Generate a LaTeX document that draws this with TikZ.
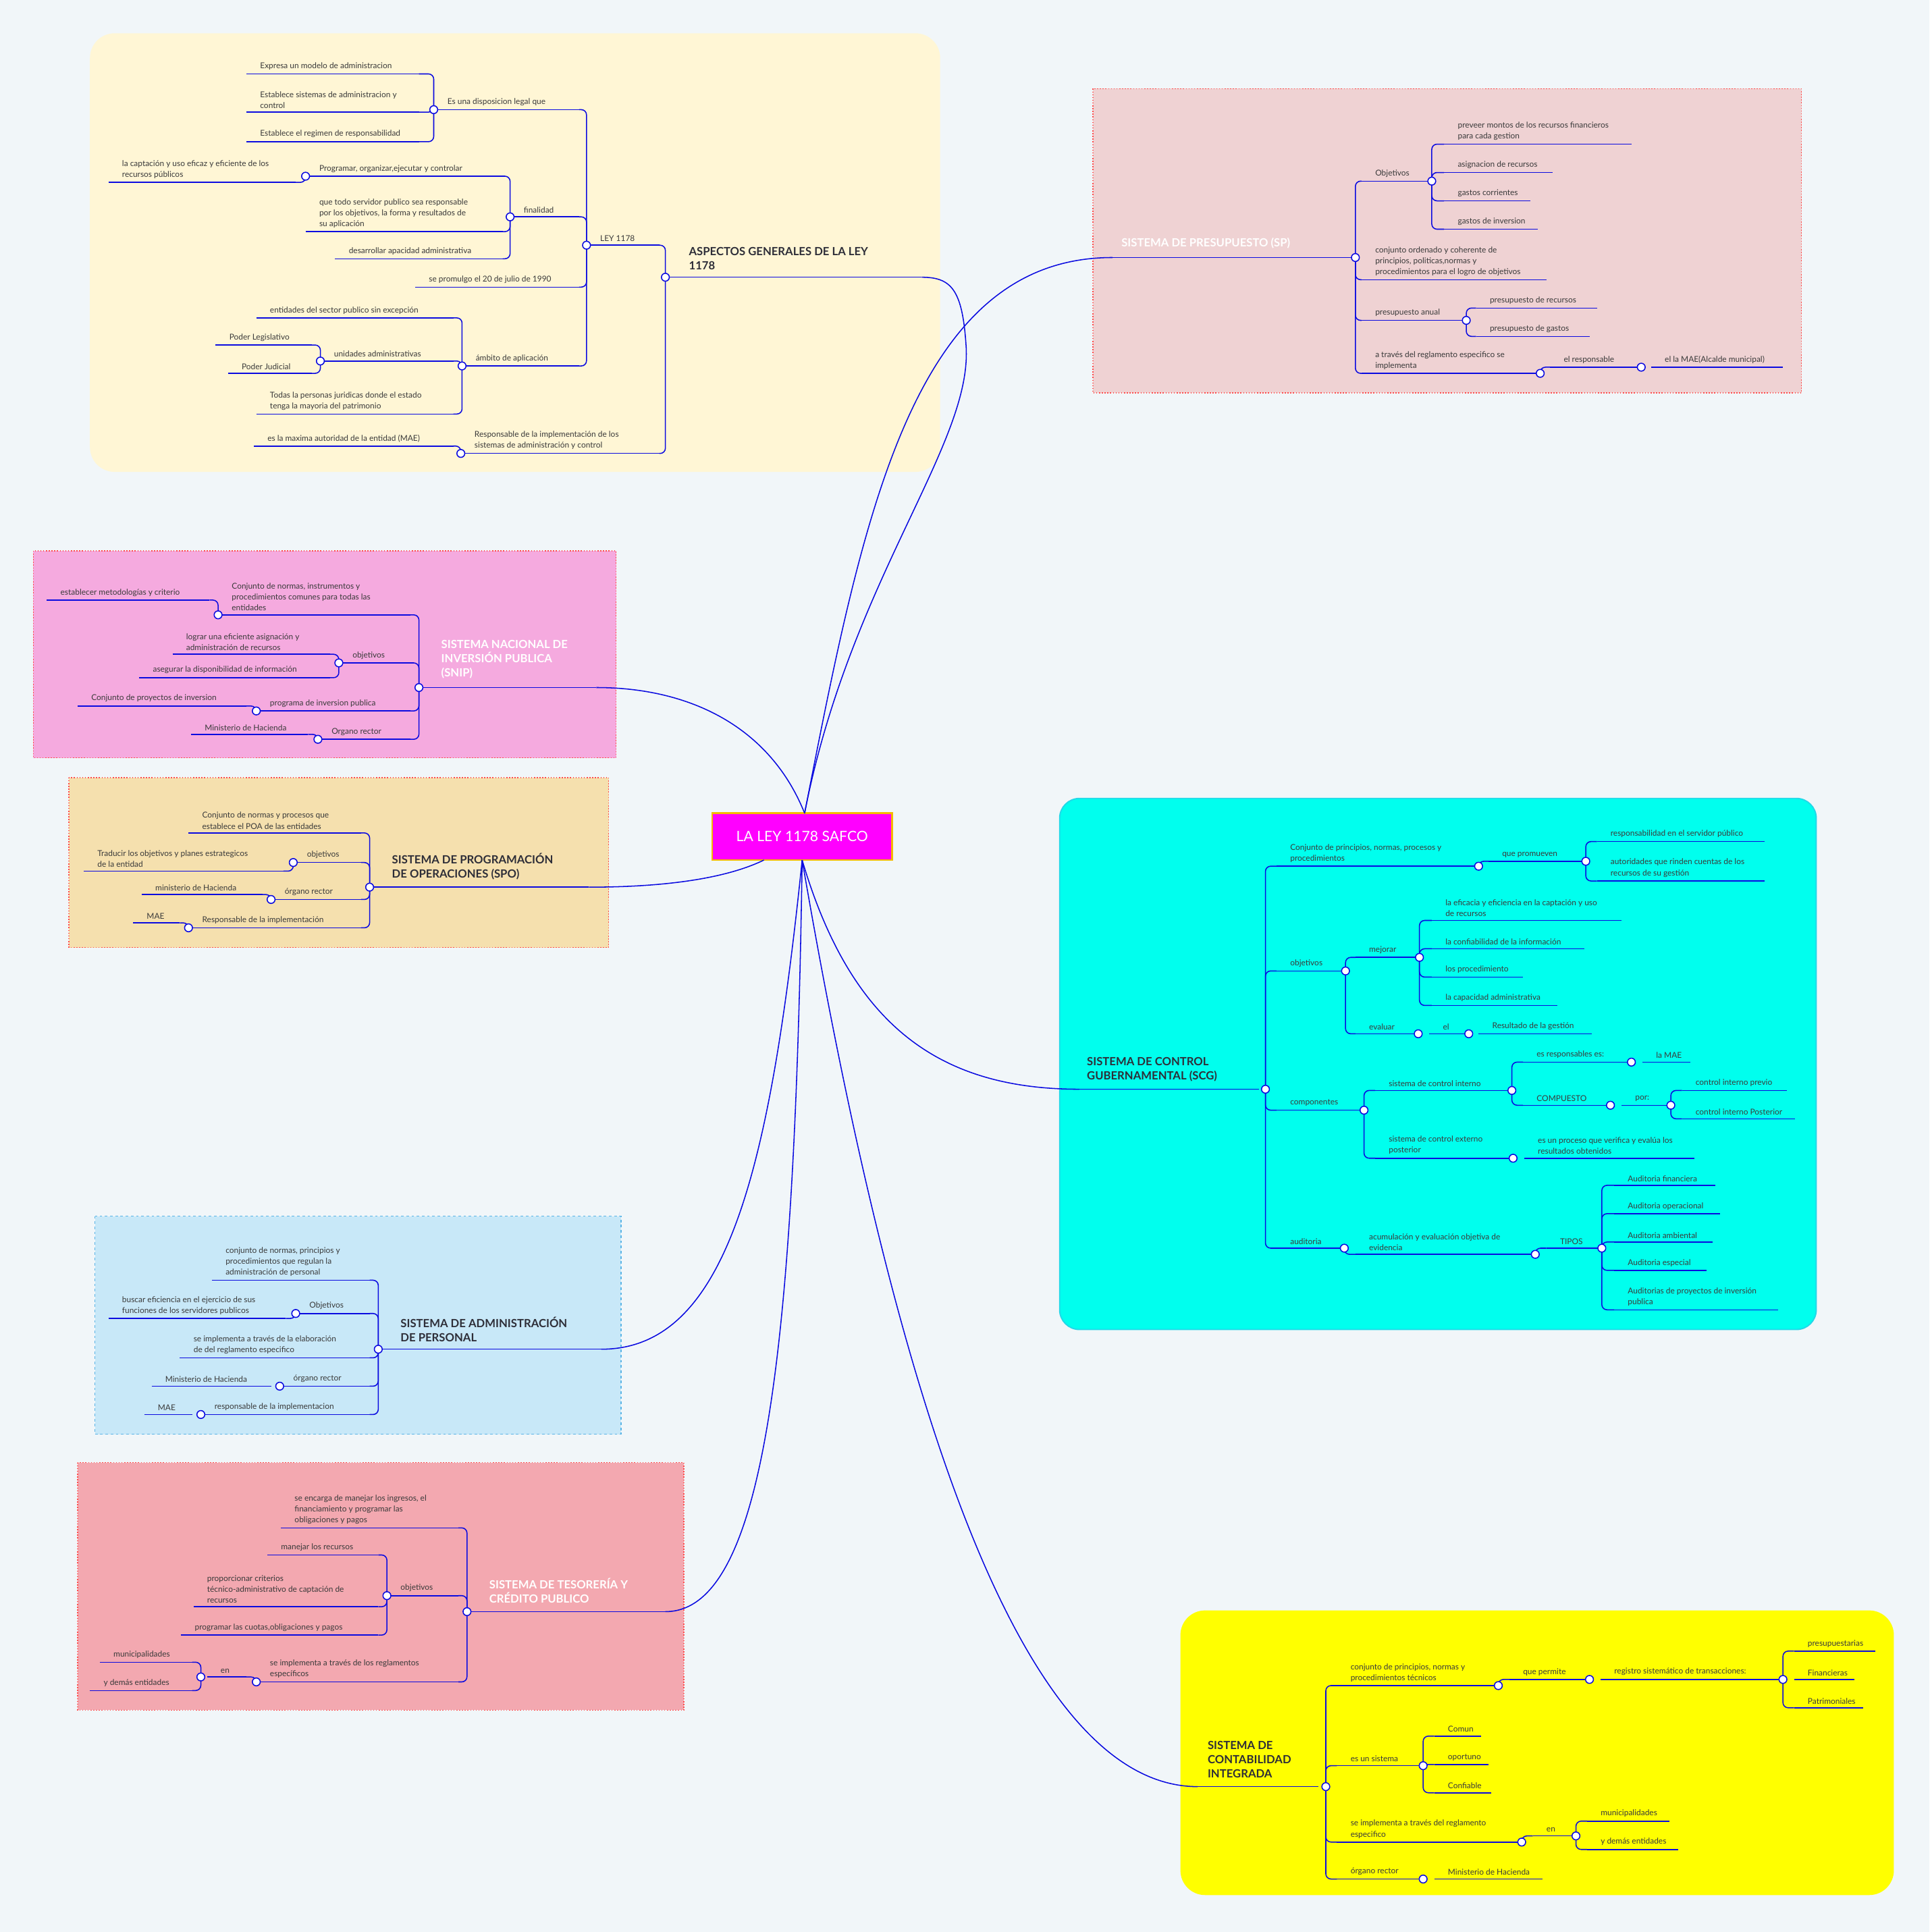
\documentclass[tikz,border=0pt]{standalone}
\usepackage{fontspec}
\setmainfont{Lato}
\usetikzlibrary{calc}
\pgfdeclarelayer{fg}
\pgfsetlayers{main,fg}
\definecolor{ln}{HTML}{0A0AE0}
\definecolor{tx}{HTML}{3A3A3A}
\definecolor{ttl}{HTML}{2E2E38}
\definecolor{rootf}{HTML}{FF00FF}
\definecolor{rootd}{HTML}{F5B800}
\tikzset{
 ln/.style={draw=ln,line width=1.2pt},
 lbl/.style={anchor=south west,inner sep=0pt,align=left,text=tx,font=\fontsize{9.3}{12.6}\selectfont},
 ttlS/.style={anchor=south west,inner sep=0pt,align=left,font=\bfseries\fontsize{13}{16.5}\selectfont},
 jc/.style={circle,draw=ln,fill=white,line width=1.2pt,inner sep=0pt,minimum size=3.2mm},
 root/.style={draw=rootd,line width=2.2pt,fill=rootf,text=white,minimum width=73mm,minimum height=19mm,font=\fontsize{16.5}{20}\selectfont},
 dotb/.style={draw=red!70!white,line width=1.2pt,dotted},
}
\newcommand\ml[5]{\draw[ln] (#2,#4) coordinate (#1a) -- (#3,#4) coordinate (#1b);
 \node[lbl] (#1t) at (#2+11,#4-3) {#5};}
\newcommand\jn[3]{\coordinate (#1) at (#2,#3);
 \begin{pgfonlayer}{fg}\node[jc] (#1c) at (#1) {};\end{pgfonlayer}}
\newcommand\cn[2]{\draw[ln,rounded corners=6] (#1) -| (#2);}
\begin{document}
\begin{tikzpicture}[x=0.5mm,y=-0.5mm]
\fill[fill={rgb,255:red,241;green,246;blue,249}] (0,0) rectangle (1566,1568);
\useasboundingbox (0,0) rectangle (1566,1568);
% panels
\fill[fill={rgb,255:red,255;green,246;blue,213},rounded corners=10mm] (73,27) rectangle (763,383);
\fill[fill={rgb,255:red,239;green,210;blue,211}] (887,72) rectangle (1462,319);
\draw[dotb] (887,72) rectangle (1462,319);
\fill[fill={rgb,255:red,245;green,170;blue,223}] (27,447) rectangle (500,615);
\draw[dotb] (27,447) rectangle (500,615);
\fill[fill={rgb,255:red,245;green,224;blue,174}] (56,631) rectangle (494,769);
\draw[dotb] (56,631) rectangle (494,769);
\draw[fill={rgb,255:red,0;green,255;blue,238},draw={rgb,255:red,34;green,216;blue,232},line width=1.5pt,rounded corners=8mm] (860,648) rectangle (1474,1079);
\draw[fill={rgb,255:red,200;green,232;blue,248},draw={rgb,255:red,90;green,180;blue,230},line width=0.9pt,dashed] (77,987) rectangle (504,1164);
\fill[fill={rgb,255:red,243;green,168;blue,176}] (63,1187) rectangle (555,1388);
\draw[dotb] (63,1187) rectangle (555,1388);
\fill[fill={rgb,255:red,255;green,255;blue,0},rounded corners=10mm] (958,1307) rectangle (1537,1538);

% root
\node[root] (root) at (651,679) {LA LEY 1178 SAFCO};

% ===== ASPECTOS
\draw[ln] (540,225) coordinate (A0a) -- (748,225) coordinate (A0b);
\node[ttlS,text=ttl] (A0t) at (559,219) {ASPECTOS GENERALES DE LA LEY\\1178};
\jn{JA0}{540}{225}
\ml{A1}{476}{535}{199}{LEY 1178} \jn{JA1}{476}{199} \cn{A1b}{JA0}
\ml{A11}{352}{470}{89}{Es una disposicion legal que} \jn{JA11}{352}{89} \cn{A11b}{JA1}
\ml{A111}{200}{340}{60}{Expresa un modelo de administracion} \cn{A111b}{JA11}
\ml{A112}{200}{340}{91}{Establece sistemas de administracion y\\control} \cn{A112b}{JA11}
\ml{A113}{200}{340}{115}{Establece el regimen de responsabilidad} \cn{A113b}{JA11}
\ml{A12}{414}{470}{176}{finalidad} \jn{JA12}{414}{176} \cn{A12b}{JA1}
\ml{A121}{248}{408}{143}{Programar, organizar,ejecutar y controlar} \jn{JA121}{248}{143} \cn{A121b}{JA12}
\ml{A1211}{88}{240}{148}{la captación y uso eficaz y eficiente de los\\recursos públicos} \cn{A1211b}{JA121}
\ml{A122}{248}{408}{188}{que todo servidor publico sea responsable\\por los objetivos, la forma y resultados de\\su aplicación} \cn{A122b}{JA12}
\ml{A123}{272}{408}{210}{desarrollar apacidad administrativa} \cn{A123b}{JA12}
\ml{A13}{337}{470}{233}{se promulgo el 20 de julio de 1990} \cn{A13b}{JA1}
\ml{A14}{375}{470}{297}{ámbito de aplicación} \jn{JA14}{375}{297} \cn{A14b}{JA1}
\ml{A141}{208}{368}{258}{entidades del sector publico sin excepción} \cn{A141b}{JA14}
\ml{A142}{260}{368}{293}{unidades administrativas} \jn{JA142}{260}{293} \cn{A142b}{JA14}
\ml{A1421}{175}{253}{280}{Poder Legislativo} \cn{A1421b}{JA142}
\ml{A1422}{185}{253}{303}{Poder Judicial} \cn{A1422b}{JA142}
\ml{A143}{208}{368}{336}{Todas la personas juridicas donde el estado\\tenga la mayoria del patrimonio} \cn{A143b}{JA14}
\ml{A2}{374}{535}{368}{Responsable de la implementación de los\\sistemas de administración y control} \jn{JA2}{374}{368} \cn{A2b}{JA0}
\ml{A21}{206}{368}{362}{es la maxima autoridad de la entidad (MAE)} \cn{A21b}{JA2}

% ===== SP
\draw[ln] (903,209) coordinate (P0a) -- (1085,209) coordinate (P0b);
\node[ttlS,text=white] (P0t) at (910,202) {SISTEMA DE PRESUPUESTO (SP)};
\draw[ln] (P0b) -- (1100,209);
\jn{JP0}{1100}{209}
\ml{P1}{1105}{1160}{147}{Objetivos} \jn{JP1}{1162}{147} \cn{P1a}{JP0}
\ml{P11}{1172}{1324}{117}{preveer montos de los recursos financieros\\para cada gestion} \cn{P11a}{JP1}
\ml{P12}{1172}{1260}{140}{asignacion de recursos} \cn{P12a}{JP1}
\ml{P13}{1172}{1242}{163}{gastos corrientes} \cn{P13a}{JP1}
\ml{P14}{1172}{1248}{186}{gastos de inversion} \cn{P14a}{JP1}
\ml{P2}{1105}{1255}{227}{conjunto ordenado y coherente  de\\principios, politicas,normas y\\procedimientos  para el logro de objetivos} \cn{P2a}{JP0}
\ml{P3}{1105}{1188}{260}{presupuesto anual} \jn{JP3}{1190}{260} \cn{P3a}{JP0}
\ml{P31}{1198}{1296}{250}{presupuesto de recursos} \cn{P31a}{JP3}
\ml{P32}{1198}{1290}{273}{presupuesto de gastos} \cn{P32a}{JP3}
\ml{P4}{1105}{1248}{303}{a través del reglamento especifico se\\implementa} \jn{JP4}{1250}{303} \cn{P4a}{JP0}
\ml{P41}{1258}{1330}{298}{el responsable} \jn{JP41}{1332}{298} \cn{P41a}{JP4}
\ml{P411}{1340}{1447}{298}{el la MAE(Alcalde municipal)}

% ===== SNIP
\draw[ln] (340,558) coordinate (N0a) -- (484,558) coordinate (N0b);
\node[ttlS,text=white] (N0t) at (358,551) {SISTEMA NACIONAL DE\\INVERSIÓN PUBLICA\\(SNIP)};
\jn{JN0}{340}{558}
\ml{N1}{177}{333}{499}{Conjunto de normas, instrumentos y\\procedimientos comunes para todas las\\entidades} \jn{JN1}{177}{499} \cn{N1b}{JN0}
\ml{N11}{38}{170}{487}{establecer metodologías y criterio} \cn{N11b}{JN1}
\ml{N2}{275}{333}{538}{objetivos} \jn{JN2}{275}{538} \cn{N2b}{JN0}
\ml{N21}{140}{268}{531}{lograr una eficiente asignación y\\administración de recursos} \cn{N21b}{JN2}
\ml{N22}{113}{268}{550}{asegurar la disponibilidad de información} \cn{N22b}{JN2}
\ml{N3}{208}{333}{577}{programa de inversion publica} \jn{JN3}{208}{577} \cn{N3b}{JN0}
\ml{N31}{63}{200}{573}{Conjunto de proyectos de inversion} \cn{N31b}{JN3}
\ml{N4}{258}{333}{600}{Organo rector} \jn{JN4}{258}{600} \cn{N4b}{JN0}
\ml{N41}{155}{250}{596}{Ministerio de Hacienda} \cn{N41b}{JN4}

% ===== SPO
\draw[ln] (300,720) coordinate (O0a) -- (478,720) coordinate (O0b);
\node[ttlS,text=ttl] (O0t) at (318,714) {SISTEMA DE PROGRAMACIÓN\\DE OPERACIONES (SPO)};
\jn{JO0}{300}{720}
\ml{O1}{153}{293}{676}{Conjunto  de normas y procesos que\\establece el POA  de las entidades} \cn{O1b}{JO0}
\ml{O2}{238}{293}{700}{objetivos} \jn{JO2}{238}{700} \cn{O2b}{JO0}
\ml{O21}{68}{230}{707}{Traducir los objetivos y planes estrategicos\\de la entidad} \cn{O21b}{JO2}
\ml{O3}{220}{293}{730}{órgano rector} \jn{JO3}{220}{730} \cn{O3b}{JO0}
\ml{O31}{115}{213}{726}{ministerio de Hacienda} \cn{O31b}{JO3}
\ml{O4}{153}{293}{753}{Responsable de la implementación} \jn{JO4}{153}{753} \cn{O4b}{JO0}
\ml{O41}{108}{146}{749}{MAE} \cn{O41b}{JO4}

% ===== SCG
\draw[ln] (876,884) coordinate (G0a) -- (1022,884) coordinate (G0b);
\node[ttlS,text=ttl] (G0t) at (882,878) {SISTEMA DE CONTROL\\GUBERNAMENTAL (SCG)};
\jn{JG0}{1027}{884}
\ml{G1}{1036}{1198}{703}{Conjunto de principios, normas, procesos y\\procedimientos} \jn{JG1}{1200}{703} \cn{G1a}{JG0}
\ml{G11}{1208}{1284}{699}{que promueven} \jn{JG11}{1287}{699} \cn{G11a}{JG1}
\ml{G111}{1296}{1432}{683}{responsabilidad en el servidor público} \cn{G111a}{JG11}
\ml{G112}{1296}{1432}{715}{autoridades que rinden cuentas de los\\recursos de su gestión} \cn{G112a}{JG11}
\ml{G2}{1036}{1090}{788}{objetivos} \jn{JG2}{1092}{788} \cn{G2a}{JG0}
\ml{G21}{1100}{1150}{777}{mejorar} \jn{JG21}{1152}{777} \cn{G21a}{JG2}
\ml{G211}{1162}{1316}{747}{la eficacia y eficiencia en la captación y uso\\de recursos} \cn{G211a}{JG21}
\ml{G212}{1162}{1286}{770}{la confiabilidad de la información} \cn{G212a}{JG21}
\ml{G213}{1162}{1236}{793}{los procedimiento} \cn{G213a}{JG21}
\ml{G214}{1162}{1264}{816}{la capacidad administrativa} \cn{G214a}{JG21}
\ml{G22}{1100}{1149}{839}{evaluar} \jn{JG22}{1151}{839} \cn{G22a}{JG2}
\ml{G221}{1160}{1190}{839}{el} \jn{JG221}{1192}{839}
\ml{G2211}{1200}{1292}{839}{Resultado de la gestión}
\ml{G3}{1036}{1105}{901}{componentes} \jn{JG3}{1107}{901} \cn{G3a}{JG0}
\ml{G31}{1116}{1225}{885}{sistema de control interno} \jn{JG31}{1227}{885} \cn{G31a}{JG3}
\ml{G311}{1236}{1322}{862}{es responsables es:} \jn{JG311}{1324}{862} \cn{G311a}{JG31}
\ml{G3111}{1333}{1372}{862}{la MAE}
\ml{G312}{1236}{1305}{897}{COMPUESTO} \jn{JG312}{1307}{897} \cn{G312a}{JG31}
\ml{G3121}{1316}{1354}{897}{por:} \jn{JG3121}{1356}{897}
\ml{G31211}{1365}{1450}{885}{control interno previo} \cn{G31211a}{JG3121}
\ml{G31212}{1365}{1457}{908}{control interno Posterior} \cn{G31212a}{JG3121}
\ml{G32}{1116}{1226}{940}{sistema de control externo\\posterior} \jn{JG32}{1228}{940} \cn{G32a}{JG3}
\ml{G321}{1237}{1375}{940}{es un proceso que verifica y evalúa los\\resultados obtenidos}
\ml{G4}{1036}{1089}{1013}{auditoria} \jn{JG4}{1091}{1013} \cn{G4a}{JG0}
\ml{G41}{1100}{1244}{1018}{acumulación y evaluación objetiva de\\evidencia} \jn{JG41}{1246}{1018} \cn{G41a}{JG4}
\ml{G411}{1255}{1298}{1013}{TIPOS} \jn{JG411}{1300}{1013} \cn{G411a}{JG41}
\ml{G4111}{1310}{1392}{962}{Auditoria financiera} \cn{G4111a}{JG411}
\ml{G4112}{1310}{1396}{985}{Auditoria operacional} \cn{G4112a}{JG411}
\ml{G4113}{1310}{1390}{1008}{Auditoria ambiental} \cn{G4113a}{JG411}
\ml{G4114}{1310}{1385}{1031}{Auditoria especial} \cn{G4114a}{JG411}
\ml{G4115}{1310}{1443}{1063}{Auditorias de proyectos de inversión\\publica} \cn{G4115a}{JG411}

% ===== SAP
\draw[ln] (307,1095) coordinate (S0a) -- (488,1095) coordinate (S0b);
\node[ttlS,text=ttl] (S0t) at (325,1089) {SISTEMA DE ADMINISTRACIÓN\\DE PERSONAL};
\jn{JS0}{307}{1095}
\ml{S1}{172}{300}{1039}{conjunto de normas, principios y\\procedimientos que regulan la\\administración de personal} \cn{S1b}{JS0}
\ml{S2}{240}{300}{1066}{Objetivos} \jn{JS2}{240}{1066} \cn{S2b}{JS0}
\ml{S21}{88}{232}{1070}{buscar eficiencia en el ejercicio de sus\\funciones de los servidores publicos} \cn{S21b}{JS2}
\ml{S3}{146}{300}{1102}{se implementa a través de la elaboración\\de del reglamento especifico} \cn{S3b}{JS0}
\ml{S4}{227}{300}{1125}{órgano rector} \jn{JS4}{227}{1125} \cn{S4b}{JS0}
\ml{S41}{123}{220}{1125}{Ministerio de Hacienda}
\ml{S5}{163}{300}{1148}{responsable de la implementacion} \jn{JS5}{163}{1148} \cn{S5b}{JS0}
\ml{S51}{117}{156}{1148}{MAE}

% ===== STC
\draw[ln] (379,1308) coordinate (T0a) -- (540,1308) coordinate (T0b);
\node[ttlS,text=white] (T0t) at (397,1301) {SISTEMA DE TESORERÍA Y\\CRÉDITO PUBLICO};
\jn{JT0}{379}{1308}
\ml{T1}{228}{372}{1240}{se encarga de manejar los ingresos, el\\financiamiento y programar las\\obligaciones y pagos} \cn{T1b}{JT0}
\ml{T2}{314}{372}{1295}{objetivos} \jn{JT2}{314}{1295} \cn{T2b}{JT0}
\ml{T21}{217}{307}{1262}{manejar los recursos} \cn{T21b}{JT2}
\ml{T22}{157}{307}{1304}{proporcionar criterios\\técnico-administrativo de captación de\\recursos} \cn{T22b}{JT2}
\ml{T23}{147}{307}{1327}{programar las cuotas,obligaciones y pagos} \cn{T23b}{JT2}
\ml{T3}{208}{372}{1365}{se implementa a través de los reglamentos\\específicos} \jn{JT3}{208}{1365} \cn{T3b}{JT0}
\ml{T31}{168}{200}{1361}{en} \jn{JT31}{163}{1361} \cn{T31b}{JT3}
\ml{T311}{81}{156}{1349}{municipalidades} \cn{T311b}{JT31}
\ml{T312}{73}{156}{1372}{y demás entidades} \cn{T312b}{JT31}

% ===== SCI
\draw[ln] (972,1450) coordinate (C0a) -- (1070,1450) coordinate (C0b);
\node[ttlS,text=ttl] (C0t) at (980,1443) {SISTEMA DE\\CONTABILIDAD\\INTEGRADA};
\jn{JC0}{1076}{1450}
\ml{C1}{1085}{1214}{1368}{conjunto de principios, normas y\\procedimientos técnicos} \jn{JC1}{1216}{1368} \cn{C1a}{JC0}
\ml{C11}{1225}{1288}{1363}{que permite} \jn{JC11}{1290}{1363} \cn{C11a}{JC1}
\ml{C111}{1299}{1445}{1363}{registro sistemático de transacciones:} \jn{JC111}{1447}{1363}
\ml{C1111}{1456}{1522}{1340}{presupuestarias} \cn{C1111a}{JC111}
\ml{C1112}{1456}{1505}{1363}{Financieras}
\ml{C1113}{1456}{1512}{1386}{Patrimoniales} \cn{C1113a}{JC111}
\ml{C2}{1085}{1153}{1433}{es un sistema} \jn{JC2}{1155}{1433} \cn{C2a}{JC0}
\ml{C21}{1164}{1202}{1409}{Comun} \cn{C21a}{JC2}
\ml{C22}{1164}{1208}{1432}{oportuno} \cn{C22a}{JC2}
\ml{C23}{1164}{1210}{1455}{Confiable} \cn{C23a}{JC2}
\ml{C3}{1085}{1233}{1495}{se implementa a través del reglamento\\especifico} \jn{JC3}{1235}{1495} \cn{C3a}{JC0}
\ml{C31}{1244}{1277}{1490}{en} \jn{JC31}{1279}{1490} \cn{C31a}{JC3}
\ml{C311}{1288}{1355}{1478}{municipalidades} \cn{C311a}{JC31}
\ml{C312}{1288}{1362}{1501}{y demás entidades} \cn{C312a}{JC31}
\ml{C4}{1085}{1153}{1525}{órgano rector} \jn{JC4}{1155}{1525} \cn{C4a}{JC0}
\ml{C41}{1164}{1252}{1525}{Ministerio de Hacienda}

% ===== main connectors
\coordinate (rN) at (653,660);
\coordinate (rS) at (651,698);
\coordinate (rSW) at (620,698);
\draw[ln] (rN) .. controls (690,470) and (790,360) .. (784,280) .. controls (781,235) and (772,225) .. (A0b);
\draw[ln] (rN) .. controls (700,420) and (740,209) .. (P0a);
\draw[ln] (rN) .. controls (625,590) and (560,558) .. (N0b);
\draw[ln] (rSW) .. controls (585,715) and (530,720) .. (O0b);
\draw[ln] (rS) .. controls (690,830) and (760,884) .. (G0a);
\draw[ln] (rS) .. controls (625,950) and (590,1095) .. (S0b);
\draw[ln] (rS) .. controls (645,1100) and (620,1308) .. (T0b);
\draw[ln] (rS) .. controls (720,1100) and (820,1450) .. (C0a);
\end{tikzpicture}
\end{document}
